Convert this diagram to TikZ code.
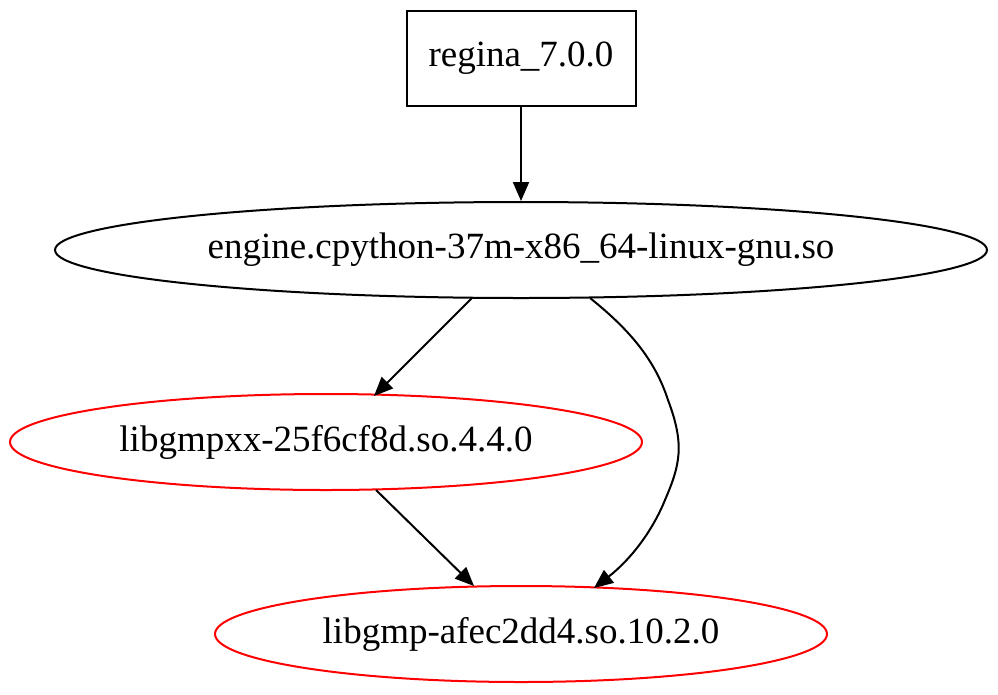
\documentclass[tikz,border=0pt]{standalone}
\usepackage{fontspec}
\setmainfont{Liberation Serif}
\usetikzlibrary{shapes.geometric,arrows.meta}
\begin{document}
\begin{tikzpicture}[x=1pt,y=-1pt,
  lbl/.style={font=\fontsize{37}{42}\selectfont,inner sep=0pt},
  ell/.style={draw,line width=2pt,ellipse,lbl},
  arr/.style={line width=2pt,-{Triangle[length=19pt,width=16pt]}}]
\useasboundingbox (0,0) rectangle (998,694);
\node[draw,line width=2pt,lbl,minimum width=229pt,minimum height=95pt] (r) at (521,58) {regina\_7.0.0};
\node[ell,minimum width=932pt,minimum height=96pt] (e) at (521,250) {engine.cpython-37m-x86\_64-linux-gnu.so};
\node[ell,red,text=black,minimum width=632pt,minimum height=96pt] (x) at (326,442) {libgmpxx-25f6cf8d.so.4.4.0};
\node[ell,red,text=black,minimum width=612pt,minimum height=96pt] (g) at (521,634) {libgmp-afec2dd4.so.10.2.0};
\coordinate (s1) at (472,298);
\coordinate (s2) at (590,298);
\coordinate (t1) at (374,396);
\coordinate (t2) at (568,586);
\coordinate (t3) at (474,586);
\coordinate (t4) at (376,490);
\draw[arr] (r) -- (e);
\draw[arr] (s1) -- (t1);
\draw[arr] (t4) -- (t3);
\draw[arr] (s2) .. controls (630,330) and (655,360) .. (668,400)
  .. controls (685,445) and (680,465) .. (665,500)
  .. controls (652,532) and (630,560) .. (594,588);
\end{tikzpicture}
\end{document}
